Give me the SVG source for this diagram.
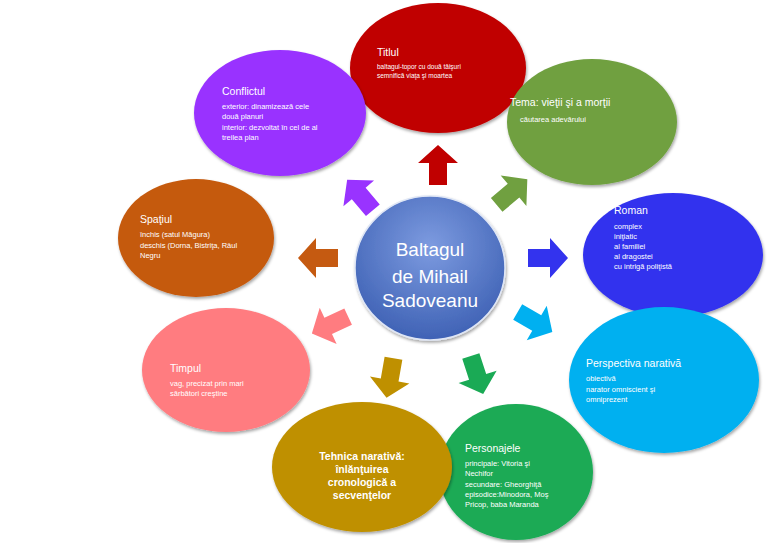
<svg xmlns="http://www.w3.org/2000/svg" width="768" height="543" viewBox="0 0 768 543">
<defs>
<radialGradient id="cg" cx="50%" cy="35%" r="65%"><stop offset="0" stop-color="#7d9be0"/><stop offset="1" stop-color="#3f62b5"/></radialGradient>
<filter id="sh" x="-10%" y="-10%" width="130%" height="130%"><feDropShadow dx="1" dy="2" stdDeviation="1.5" flood-opacity="0.35"/></filter>
<path id="arr" d="M-20,-9 L2,-9 L2,-20 L20,0 L2,20 L2,9 L-20,9 Z"/>
</defs>
<style>
text{font-family:"Liberation Sans",Arial,sans-serif;fill:#fff}
.t{font-size:10.5px}
.tb{font-size:10.5px;font-weight:bold}
.b{font-size:7.5px}
.s{font-size:6.5px}
ellipse{filter:url(#sh)}
</style>
<rect width="768" height="543" fill="#fff"/>
<g id="connectors">
<use href="#arr" transform="translate(438,165) rotate(-90)" fill="#C00000"/>
<use href="#arr" transform="translate(512,192) rotate(-40)" fill="#70A040"/>
<use href="#arr" transform="translate(548,258)" fill="#3333EE"/>
<use href="#arr" transform="translate(535,322) rotate(30)" fill="#00B0F0"/>
<use href="#arr" transform="translate(477,375) rotate(72)" fill="#1AAA55"/>
<use href="#arr" transform="translate(390,378) rotate(100)" fill="#BF9000"/>
<use href="#arr" transform="translate(330,325) rotate(155)" fill="#FF7C80"/>
<use href="#arr" transform="translate(318,258) rotate(180)" fill="#C55A11"/>
<use href="#arr" transform="translate(360,195) rotate(-130)" fill="#9933FF"/>
</g>
<g id="titlul"><ellipse cx="438" cy="68" rx="88" ry="65" fill="#C00000"/>
<text class="t" x="377" y="56">Titlul</text>
<text class="s" x="377" y="69">baltagul-topor cu două tăişuri</text>
<text class="s" x="377" y="78">semnifică viaţa şi moartea</text></g>
<g id="tema"><ellipse cx="592" cy="122" rx="85" ry="63" fill="#70A040"/>
<text class="t" x="510" y="106">Tema: vieţii şi a morţii</text>
<text class="b" x="520" y="122">căutarea adevărului</text></g>
<g id="roman"><ellipse cx="673" cy="255" rx="90" ry="62" fill="#3333EE"/>
<text class="t" x="614" y="214">Roman</text>
<text class="b" x="614" y="229">complex</text>
<text class="b" x="614" y="239">iniţiatic</text>
<text class="b" x="614" y="249">al familiei</text>
<text class="b" x="614" y="259">al dragostei</text>
<text class="b" x="614" y="269">cu intrigă poliţistă</text></g>
<g id="perspectiva"><ellipse cx="664" cy="380" rx="95" ry="73" fill="#00B0F0"/>
<text class="t" x="586" y="367">Perspectiva narativă</text>
<text class="b" x="586" y="381">obiectivă</text>
<text class="b" x="586" y="392">narator omniscient şi</text>
<text class="b" x="586" y="402">omniprezent</text></g>
<g id="personajele"><ellipse cx="516" cy="472" rx="77" ry="68" fill="#1AAA55"/>
<text class="t" x="465" y="452">Personajele</text>
<text class="b" x="465" y="466">principale: Vitoria şi</text>
<text class="b" x="465" y="476">Nechifor</text>
<text class="b" x="465" y="487">secundare: Gheorghiţă</text>
<text class="b" x="465" y="497">episodice:Minodora, Moş</text>
<text class="b" x="465" y="507">Pricop, baba Maranda</text></g>
<g id="tehnica"><ellipse cx="362" cy="467" rx="90" ry="65" fill="#BF9000"/>
<text class="tb" x="362" y="460" text-anchor="middle">Tehnica narativă:</text>
<text class="tb" x="362" y="473" text-anchor="middle">înlănţuirea</text>
<text class="tb" x="362" y="486" text-anchor="middle">cronologică a</text>
<text class="tb" x="362" y="499" text-anchor="middle">secvenţelor</text></g>
<g id="timpul"><ellipse cx="226" cy="370" rx="84" ry="62" fill="#FF7C80"/>
<text class="t" x="170" y="372">Timpul</text>
<text class="b" x="170" y="386">vag, precizat prin mari</text>
<text class="b" x="170" y="396">sărbători creştine</text></g>
<g id="spatiul"><ellipse cx="196" cy="238" rx="78" ry="59" fill="#C55A11"/>
<text class="t" x="140" y="223">Spaţiul</text>
<text class="b" x="140" y="237">închis (satul Măgura)</text>
<text class="b" x="140" y="248">deschis (Dorna, Bistriţa, Râul</text>
<text class="b" x="140" y="258">Negru</text></g>
<g id="conflictul"><ellipse cx="280" cy="113" rx="86" ry="63" fill="#9933FF"/>
<text class="t" x="222" y="95">Conflictul</text>
<text class="b" x="222" y="109">exterior: dinamizează cele</text>
<text class="b" x="222" y="119">două planuri</text>
<text class="b" x="222" y="130">interior: dezvoltat în cel de al</text>
<text class="b" x="222" y="140">treilea plan</text></g>
<g id="center"><ellipse cx="430" cy="268" rx="75" ry="72" fill="url(#cg)" stroke="#dfe6f5" stroke-width="1.5"/>
<text x="430" y="256" font-size="19" text-anchor="middle">Baltagul</text>
<text x="430" y="283" font-size="19" text-anchor="middle">de Mihail</text>
<text x="430" y="307" font-size="19" text-anchor="middle">Sadoveanu</text></g>
</svg>
